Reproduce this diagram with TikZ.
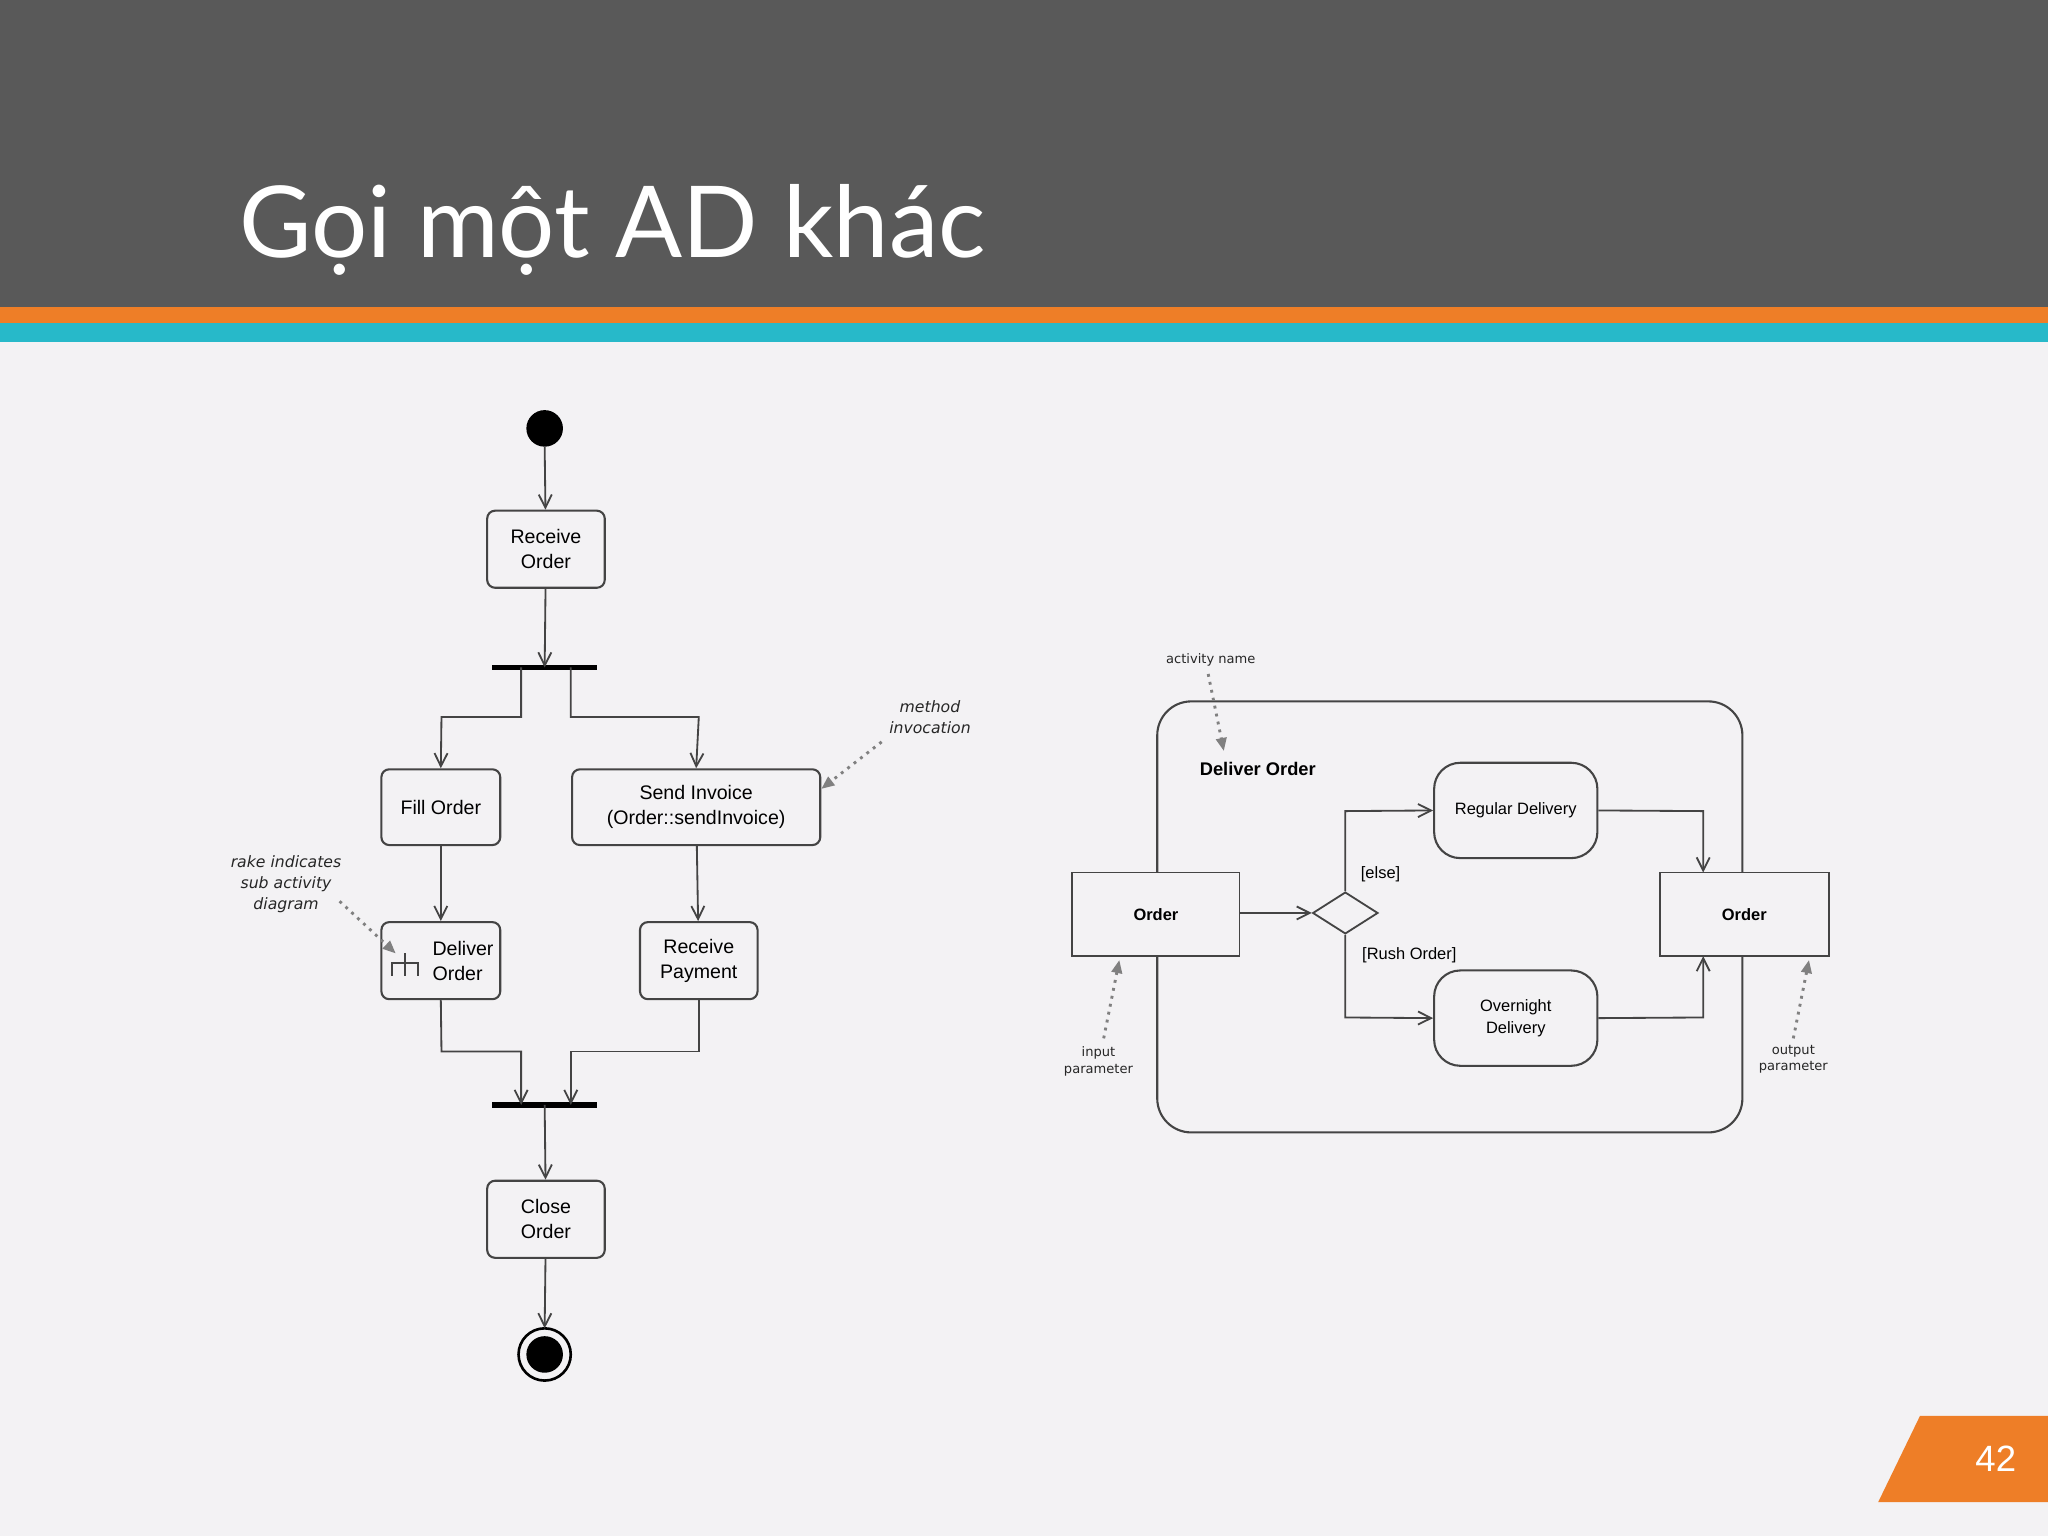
\documentclass[tikz,border=0pt]{standalone}
\usepackage{fontspec}
\setmainfont{Liberation Sans}
\newfontfamily\titlefont{Lato}
\newfontfamily\notefont{DejaVu Sans}
\usetikzlibrary{arrows.meta,shapes.geometric}
\definecolor{bgc}{HTML}{F3F2F4}
\definecolor{hdr}{HTML}{595959}
\definecolor{org}{HTML}{EE7E27}
\definecolor{tea}{HTML}{27B9C9}
\definecolor{ln}{HTML}{444444}
\tikzset{
 act/.style={draw=ln,line width=0.8pt,rounded corners=3pt,align=center,font=\fontsize{7.5}{9.5}\selectfont,inner sep=0pt},
 ract/.style={draw=ln,line width=0.8pt,rounded corners=10pt,align=center,font=\fontsize{6.3}{8.5}\selectfont,inner sep=0pt},
 pin/.style={draw=ln,line width=0.7pt,font=\bfseries\fontsize{6.3}{8}\selectfont,inner sep=0pt},
 flow/.style={ln,line width=0.7pt,-{Straight Barb[length=5pt,width=5pt]}},
 note/.style={font=\notefont\itshape\fontsize{6}{8}\selectfont,align=center,text=black!85},
 snote/.style={font=\notefont\fontsize{5}{6.5}\selectfont,align=center,text=black!85},
 dotarr/.style={gray,dotted,line width=1.1pt,-{Triangle[length=5pt,width=4pt]}},
 bar/.style={line width=2pt,black}
}
\begin{document}
\begin{tikzpicture}[x=0.5pt,y=-0.5pt]
\fill[bgc] (0,0) rectangle (1568,1176);
\fill[hdr] (0,0) rectangle (1568,235);
\fill[org] (0,235) rectangle (1568,247);
\fill[tea] (0,247) rectangle (1568,262);
\node[anchor=base west,text=white,font=\titlefont\fontsize{38}{40}\selectfont,inner sep=0] (title) at (183,197) {Gọi một AD khác};
\fill[org] (1470,1084) -- (1568,1084) -- (1568,1150) -- (1438,1150) -- cycle;
\node[text=white,font=\fontsize{14}{16}\selectfont] (pg) at (1528,1117) {42};

% left diagram
\fill[black] (417,328) circle (14);
\coordinate (st) at (417,342);
\node[act,minimum width=45,minimum height=29.5] (ro) at (418,420.5) {Receive\\Order};
\draw[bar] (377,511) -- (457,511);
\coordinate (f1) at (399,511); \coordinate (f2) at (437,511);
\node[act,minimum width=45.5,minimum height=29] (fo) at (337.5,618) {Fill Order};
\node[act,minimum width=95,minimum height=29] (si) at (533,618) {Send Invoice\\(Order::sendInvoice)};
\node[act,minimum width=45.5,minimum height=29.5,align=left] (do) at (337.5,735.5) {\hspace*{17pt}Deliver\\\hspace*{17pt}Order};
\node[act,minimum width=45,minimum height=29.5] (rp) at (535,735.5) {Receive\\Payment};
\draw[bar] (377,846) -- (457,846);
\coordinate (j1) at (399,846); \coordinate (j2) at (437,846);
\node[act,minimum width=45,minimum height=29.5] (co) at (418,933.5) {Close\\Order};
\draw[line width=1pt] (417,1037) circle (20);
\fill[black] (417,1037) circle (14);
\coordinate (en) at (417,1017);
\draw[flow] (st) -- (ro);
\draw[flow] (ro) -- (417,511);
\draw[flow] (f1) -- (399,549) -- (338,549) -- (fo.north);
\draw[flow] (f2) -- (437,549) -- (535,549) -- (si.north);
\draw[flow] (fo) -- (do);
\draw[flow] (si) -- (rp);
\draw[flow] (do.south) -- (338,805) -- (399,805) -- (j1);
\draw[flow] (rp.south) -- (535,805) -- (437,805) -- (j2);
\draw[flow] (417,846) -- (co);
\draw[flow] (co) -- (en);
% rake
\draw[ln,line width=0.7pt] (300,747) -- (300,737) -- (320,737) -- (320,747) (310,730) -- (310,747);
\node[note] (mi) at (712,549) {method\\invocation};
\draw[dotarr] (675,568) -- (si.north east |- 0,604);
\node[note] (rk) at (219,677) {rake indicates\\sub activity\\diagram};
\draw[dotarr] (260,690) -- (303,730);

% right diagram
\draw[ln,line width=0.8pt,rounded corners=13pt] (886,537) rectangle (1334,867);
\node[snote] (an) at (927,505) {activity name};
\coordinate (ant) at (937,575);
\draw[dotarr] (925,516) -- (ant);
\node[font=\bfseries\fontsize{7}{8}\selectfont] (dn) at (963,589) {Deliver Order};
\node[pin,minimum width=64,minimum height=32,fill=bgc] (oi) at (885,700) {Order};
\node[pin,minimum width=64.5,minimum height=32,fill=bgc] (oo) at (1335.5,700) {Order};
\node[draw=ln,line width=0.7pt,diamond,minimum width=25,minimum height=16,inner sep=0,aspect=1.6] (dm) at (1030,699) {};
\node[ract,minimum width=62.5,minimum height=36.5] (rd) at (1160.5,620.5) {Regular Delivery};
\node[ract,minimum width=62.5,minimum height=36.5] (od) at (1160.5,779.5) {Overnight\\Delivery};
\draw[flow] (oi.east |- dm) -- (dm.west);
\draw[flow] (dm.north) -- (1030,621) -- (rd.west);
\draw[flow] (dm.south) -- (1030,779) -- (od.west);
\draw[flow] (rd.east) -- (1304,621) -- (1304,668);
\draw[flow] (od.east) -- (1304,779) -- (1304,732);
\node[font=\fontsize{6.3}{8}\selectfont] (el) at (1057,669) {[else]};
\node[font=\fontsize{6.3}{8}\selectfont] (ru) at (1079,731) {[Rush Order]};
\node[snote] (ip) at (841,813) {input\\parameter};
\draw[dotarr] (845,795) -- (857,735);
\node[snote] (op) at (1373,811) {output\\parameter};
\draw[dotarr] (1373,795) -- (1385,735);
\end{tikzpicture}
\end{document}
